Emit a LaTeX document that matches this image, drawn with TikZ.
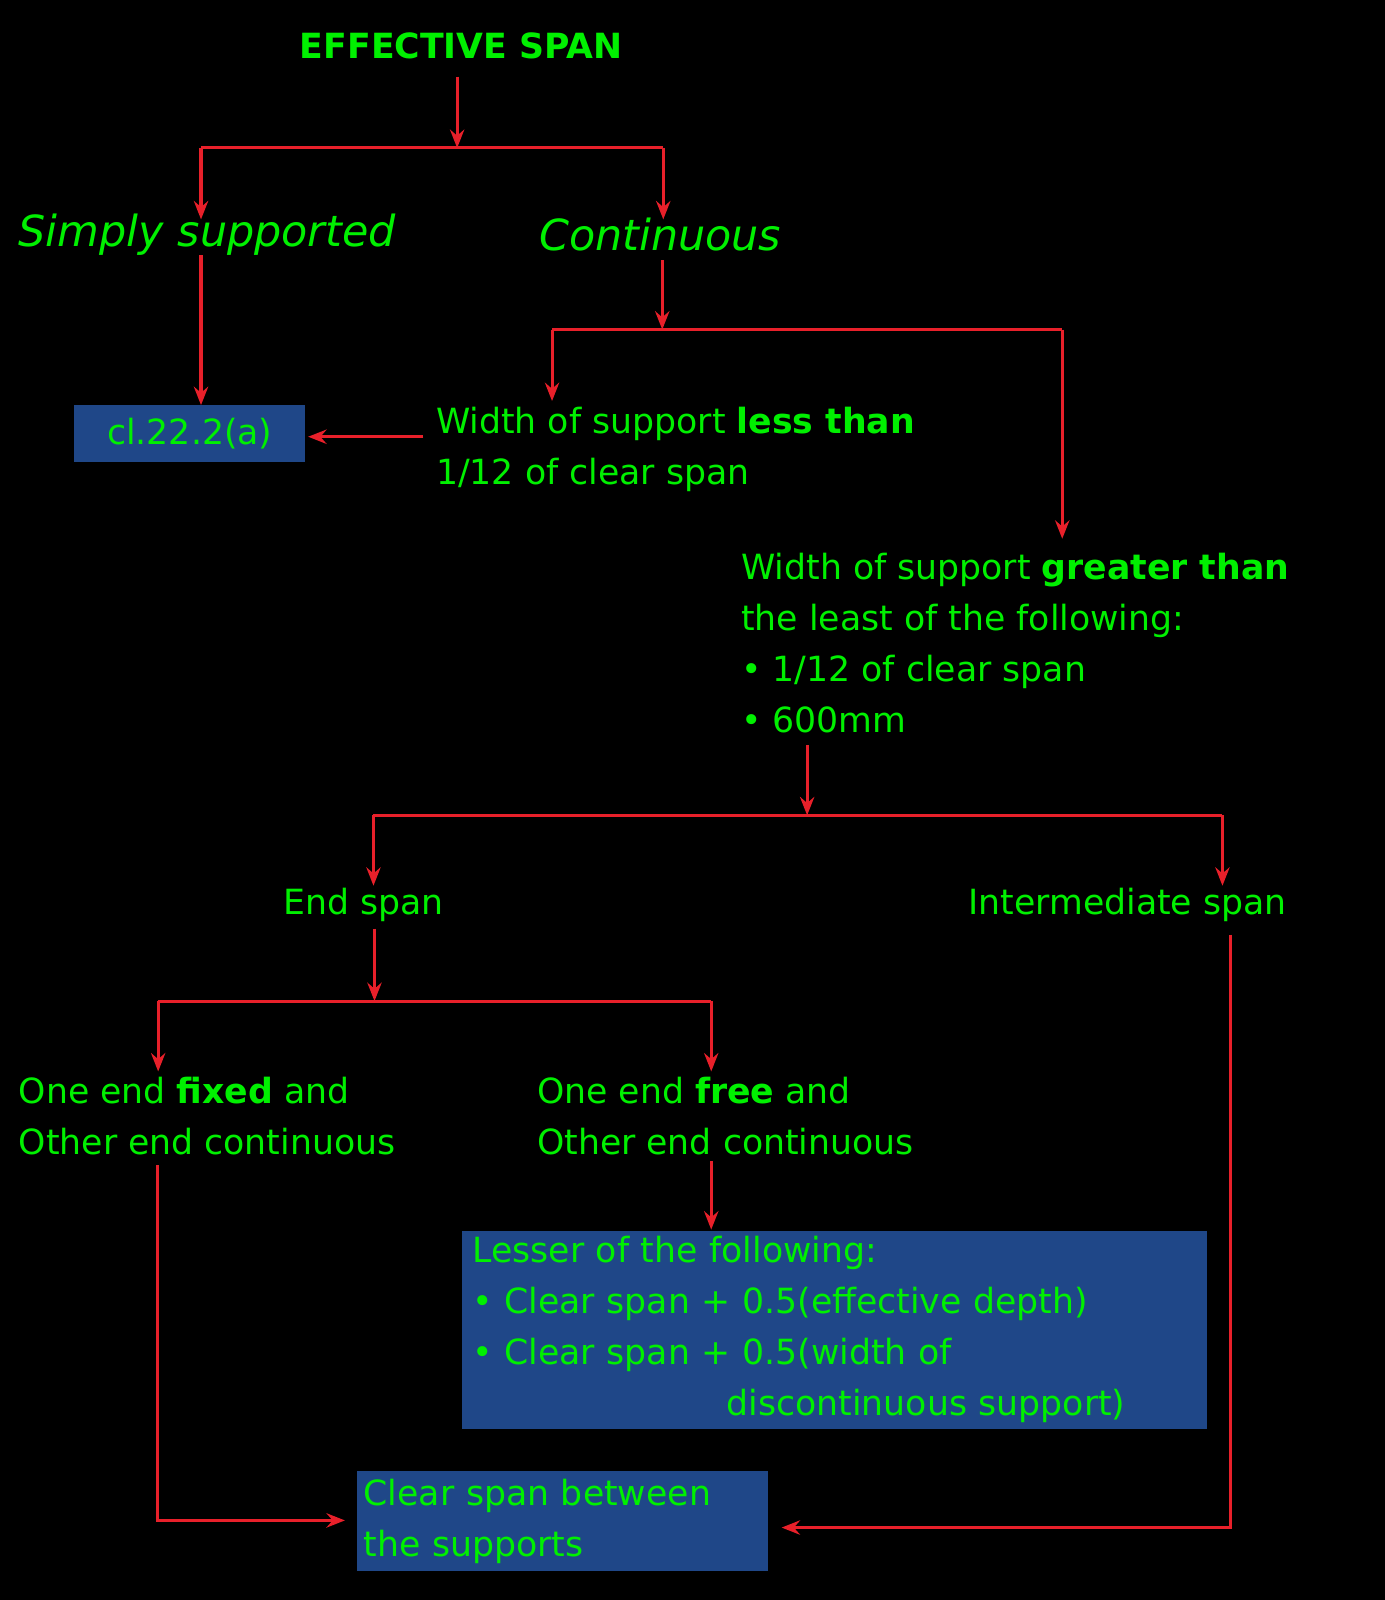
\documentclass[tikz,border=0pt]{standalone}
\usepackage{fontspec}
\setmainfont{DejaVu Sans}
\usetikzlibrary{arrows.meta}
\definecolor{tg}{HTML}{00F000}
\definecolor{ar}{HTML}{E8202A}
\definecolor{bx}{HTML}{1F4788}
\begin{document}
\begin{tikzpicture}[x=0.5pt,y=-0.5pt,
  ln/.style={draw=ar,line width=1.5pt},
  arr/.style={ln,-{Stealth[length=9pt,width=7pt,inset=3pt]}},
  txt/.style={text=tg,font=\fontsize{17}{25}\selectfont,inner sep=0pt,align=left},
  hd/.style={text=tg,font=\fontsize{21}{25}\selectfont\itshape,inner sep=0pt},
  box/.style={fill=bx,text=tg,font=\fontsize{17}{25}\selectfont,inner sep=0pt,align=left}]
\fill[black] (0,0) rectangle (1357,1568);
\useasboundingbox (0,0) rectangle (1357,1568);
\node[txt,font=\fontsize{17}{25}\selectfont\bfseries] (top) at (452,45) {EFFECTIVE SPAN};
\node[hd,anchor=west] (ss) at (18,230) {Simply supported};
\node[hd] (co) at (647,230) {Continuous};
\node[box,minimum width=113pt,minimum height=28pt,align=center] (cl) at (186,425) {cl.22.2(a)};
\node[txt,anchor=west] (less) at (427,440) {Width of support \textbf{less than}\\1/12 of clear span};
\node[txt,anchor=west] (gr) at (726,630) {Width of support \textbf{greater than}\\the least of the following:\\• 1/12 of clear span\\• 600mm};
\node[txt] (end) at (356,887) {End span};
\node[txt] (int) at (1105,887) {Intermediate span};
\node[txt,anchor=west] (fix) at (18,1094) {One end \textbf{fixed} and\\Other end continuous};
\node[txt,anchor=west] (free) at (526,1094) {One end \textbf{free} and\\Other end continuous};
\node[box,minimum width=365pt,minimum height=97pt,text width=355pt] (les) at (818,1303) {Lesser of the following:\\• Clear span + 0.5(effective depth)\\• Clear span + 0.5(width of\\\hspace*{124.5pt}discontinuous support)};
\node[box,minimum width=201.5pt,minimum height=49pt,text width=195pt] (cs) at (551.5,1491) {Clear span between\\the supports};
\coordinate (a1) at (448,145);
\draw[arr] (448,75) -- (a1);
\draw[ln] (197,145) -- (650,145);
\draw[arr] (197,145) -- (197,215);
\draw[arr] (650,145) -- (650,215);
\draw[arr] (197,250) -- (197,397);
\coordinate (a2) at (649,323);
\draw[arr] (649,255) -- (a2);
\draw[ln] (541,323) -- (1041,323);
\draw[arr] (541,323) -- (541,393);
\draw[arr] (1041,323) -- (1041,528);
\draw[arr] (415,428) -- (302,428);
\draw[arr] (791,730) -- (791,799);
\draw[ln] (366,799) -- (1198,799);
\draw[arr] (366,799) -- (366,868);
\draw[arr] (1198,799) -- (1198,868);
\draw[arr] (367,910) -- (367,981);
\draw[ln] (155,981) -- (697,981);
\draw[arr] (155,981) -- (155,1050);
\draw[arr] (697,981) -- (697,1050);
\draw[arr] (697,1138) -- (697,1205);
\draw[arr] (154,1142) -- (154,1490) -- (338,1490);
\draw[arr] (1206,916) -- (1206,1497) -- (766,1497);
\end{tikzpicture}
\end{document}
